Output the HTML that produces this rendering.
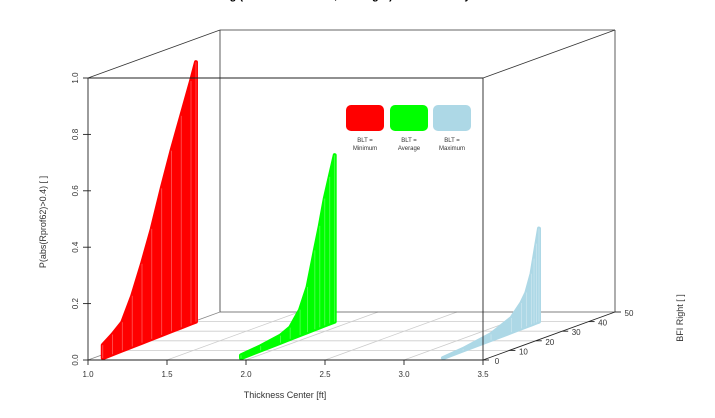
<!DOCTYPE html>
<html><head><meta charset="utf-8"><style>
body{margin:0;background:#fff;width:715px;height:413px;overflow:hidden;font-family:"Liberation Sans",sans-serif}
svg text{font-family:"Liberation Sans",sans-serif}
</style></head><body>
<svg id="chart" width="715" height="413"></svg>
<script>
const xTicks=[1.0,1.5,2.0,2.5,3.0,3.5];
const yTicks=[0.0,0.2,0.4,0.6,0.8,1.0];
const zTicks=[0,10,20,30,40,50];
const seriesNames=["BLT = Minimum","BLT = Average","BLT = Maximum"];
const seriesColors=["#ff0000","#00ff00","#add8e6"];
const redThk=[1.06,1.055,1.05,1.046,1.041,1.036,1.032,1.027,1.022,1.017,1.015];
const redBfi=[2,6,10,14,18,22,26,30,34,38,40];
const redP=[0.046,0.07,0.10,0.18,0.28,0.39,0.52,0.64,0.75,0.86,0.92];
const greenThk=[1.935,1.926,1.917,1.912,1.908,1.905,1.901,1.899,1.897,1.895,1.893];
const greenBfi=[2,10,18,22,26,29,32,34,36,38,40];
const greenP=[0.01,0.015,0.025,0.04,0.09,0.16,0.28,0.36,0.45,0.52,0.59];
const blueThk=[3.213,3.207,3.2,3.195,3.192,3.19,3.189,3.188,3.187,3.186];
const blueBfi=[2,10,21,29,33,35,37,38,39,40];
const blueP=[0.0,0.005,0.02,0.05,0.09,0.12,0.18,0.23,0.28,0.33];

const NS="http://www.w3.org/2000/svg";
const svg=document.getElementById('chart');
const X0=88,X1=483,Y0=360,Y1=78,DX=132,DY=-48;
function sx(t,z){return X0+(t-1)/2.5*(X1-X0)+DX*z/50;}
function sy(p,z){return Y0-p*(Y0-Y1)+DY*z/50;}
function el(tag,attrs,parent){const e=document.createElementNS(NS,tag);for(const k in attrs)e.setAttribute(k,attrs[k]);(parent||svg).appendChild(e);return e;}
function line(x1,y1,x2,y2,stroke,w,name){const l=el('line',{x1,y1,x2,y2,stroke,'stroke-width':w});


return l;}
function text(x,y,s,size,name,attrs){const t=el('text',Object.assign({x,y,'font-size':size,fill:'#333','text-anchor':'middle'},attrs||{}));t.textContent=s;


return t;}

text(380,-1,"Model Data along (Thickness Center, BFI Right) for Probability of Failure at Defined Loads",11,'chart-title',{'font-weight':'bold',fill:'#000'});

zTicks.slice(1,5).forEach(z=>line(sx(1,z),sy(0,z),sx(3.5,z),sy(0,z),'#ccc',0.8,'floor-grid-z'));
xTicks.slice(1,5).forEach(t=>line(sx(t,0),sy(0,0),sx(t,50),sy(0,50),'#ccc',0.8,'floor-grid-x'));
line(sx(1,50),sy(0,50),sx(1,50),sy(1,50),'#333',0.8,'back-left-edge');
line(sx(1,50),sy(1,50),sx(3.5,50),sy(1,50),'#333',0.8,'back-top-edge');
line(sx(3.5,50),sy(1,50),sx(3.5,50),sy(0,50),'#333',0.8,'back-right-edge');
line(sx(1,50),sy(0,50),sx(3.5,50),sy(0,50),'#555',0.8,'back-bottom-edge');
line(sx(1,0),sy(1,0),sx(1,50),sy(1,50),'#333',0.8,'top-left-depth-edge');
line(sx(3.5,0),sy(1,0),sx(3.5,50),sy(1,50),'#333',0.8,'top-right-depth-edge');
line(sx(1,0),sy(0,0),sx(1,50),sy(0,50),'#888',0.8,'floor-left-edge');

const all=[[redThk,redBfi,redP],[greenThk,greenBfi,greenP],[blueThk,blueBfi,blueP]];
all.forEach((s,i)=>{
 const [T,Z,P]=s;const g=el('g',{});
 
 
 let pts=[];
 for(let k=0;k<T.length;k++)pts.push(sx(T[k],Z[k])+','+sy(P[k],Z[k]));
 for(let k=T.length-1;k>=0;k--)pts.push(sx(T[k],Z[k])+','+sy(0,Z[k]));
 const poly=el('polygon',{points:pts.join(' '),fill:seriesColors[i],stroke:seriesColors[i],'stroke-width':4,'stroke-linejoin':'round'},g);
 
 
 for(let k=0;k<T.length;k++){
  const l=el('line',{x1:sx(T[k],Z[k]),y1:sy(0,Z[k]),x2:sx(T[k],Z[k]),y2:sy(P[k],Z[k]),stroke:'rgba(255,255,255,0.35)','stroke-width':0.8},g);
  
  
 }
});

line(X0,Y0,X0,Y1,'#222',0.9,'y-axis-line');
line(X0,Y1,X1,Y1,'#222',0.9,'front-top-edge');
line(X1,Y1,X1,Y0,'#222',0.9,'front-right-edge');
line(X0,Y0,X1,Y0,'#222',0.9,'x-axis-line');
line(sx(3.5,0),sy(0,0),sx(3.5,50),sy(0,50),'#222',0.9,'z-axis-line');

xTicks.forEach(t=>{line(sx(t,0),Y0,sx(t,0),Y0+5,'#222',0.9,'x-tick');text(sx(t,0),Y0+17,t.toFixed(1),8,'x-tick-label');});
yTicks.forEach(p=>{const y=sy(p,0);line(X0-5,y,X0+3,y,'#222',0.9,'y-tick');text(76,y,p.toFixed(1),8,'y-tick-label',{transform:`rotate(-90 76 ${y})`,'dominant-baseline':'middle'});});
zTicks.forEach(z=>{const x=sx(3.5,z),y=sy(0,z);line(x,y,x+6,y,'#222',0.9,'z-tick');text(x+14,y+4,String(z),8,'z-tick-label');});

text(285,398,"Thickness Center [ft]",9,'x-axis-title');
text(46,222,"P(abs(Rprof62)>0.4) [ ]",9,'y-axis-title',{transform:'rotate(-90 46 222)'});
text(683,318,"BFI Right [ ]",9,'z-axis-title',{transform:'rotate(-90 683 318)'});

const lx=[346,390,433];
seriesNames.forEach((n,i)=>{
 const g=el('g',{});
 
 
 el('rect',{x:lx[i],y:105,width:38,height:26,rx:5,fill:seriesColors[i]},g);
 const parts=n.split('= ');
 const t1=el('text',{x:lx[i]+19,y:142,'font-size':6,fill:'#333','text-anchor':'middle'},g);t1.textContent=parts[0]+'=';
 const t2=el('text',{x:lx[i]+19,y:150,'font-size':6,fill:'#333','text-anchor':'middle'},g);t2.textContent=parts[1];
});
</script>
</body></html>
